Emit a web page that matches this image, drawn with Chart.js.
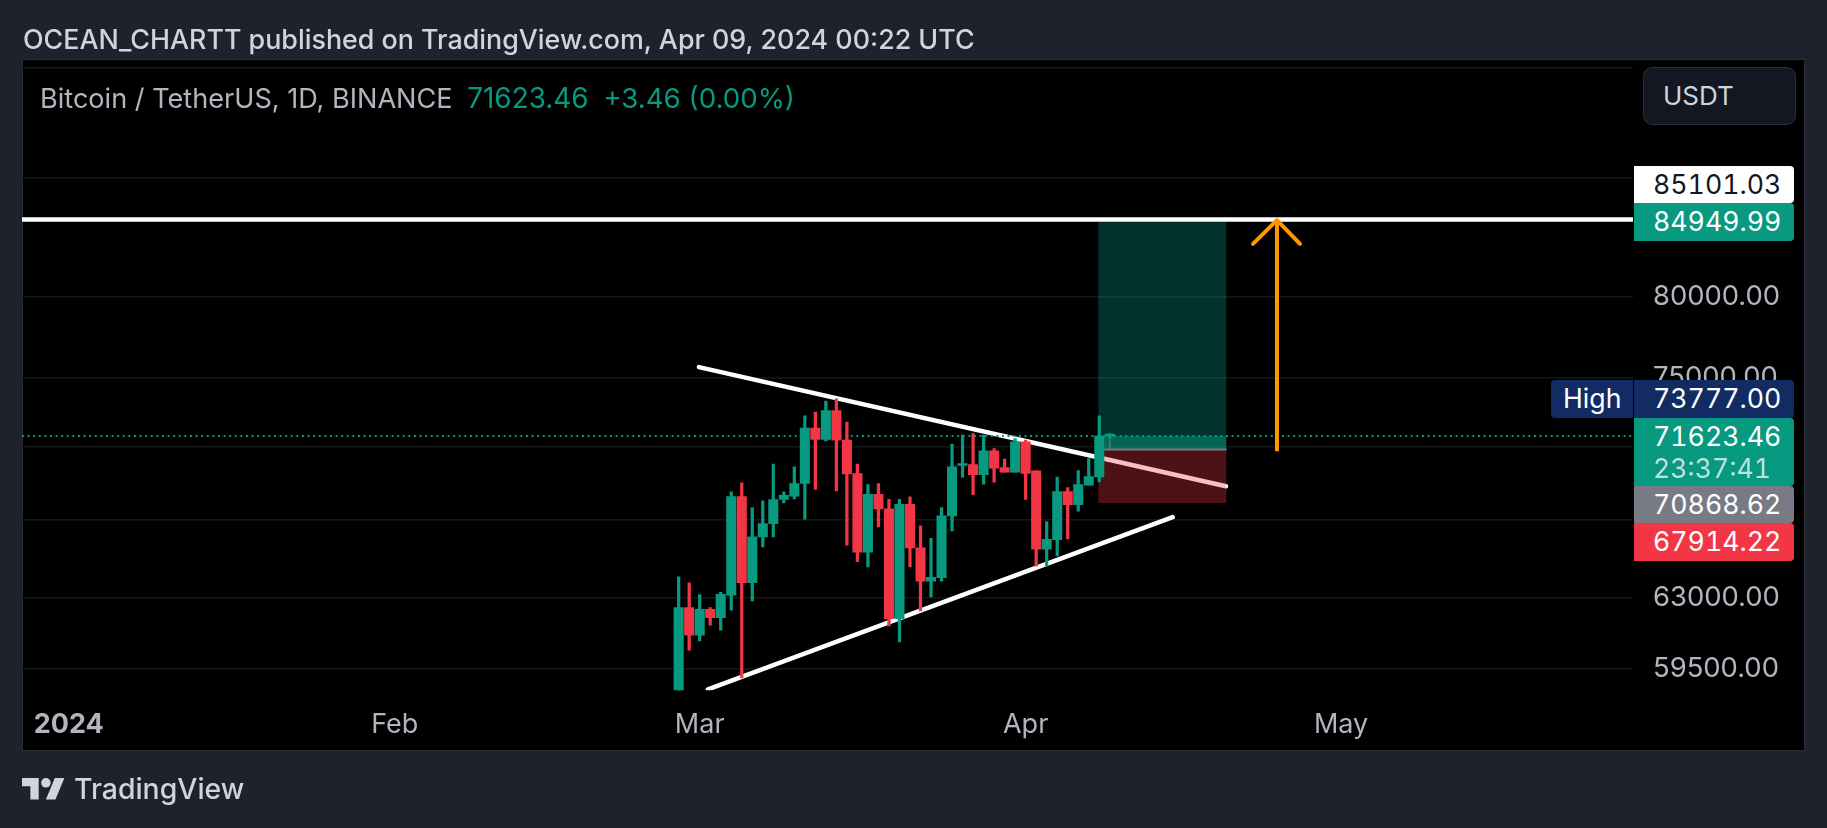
<!DOCTYPE html>
<html><head><meta charset="utf-8">
<script src="https://cdn.jsdelivr.net/npm/chart.js@4"></script>
<style>
html,body{margin:0;padding:0;width:1827px;height:828px;overflow:hidden;background:#1e222d;font-family:Inter,"Noto Sans",sans-serif}
#pane{position:absolute;left:22px;top:59px;width:1783px;height:692px;background:#000;border:1px solid #2a2e39;box-sizing:border-box}
#wrap{position:absolute;left:0;top:0;width:1827px;height:828px}
.t{position:absolute;white-space:nowrap;line-height:1}
#title{left:23px;top:26px;font-size:26.85px;font-weight:500;color:#d1d4dc}
#sub{left:40px;top:85px;font-size:27.1px;color:#b2b5be}
#sub b{font-weight:400;font-size:27.9px;color:#089981;margin-left:7px}
#sub i{font-style:normal;font-size:27.7px;color:#089981;margin-left:7px}
#unit{position:absolute;left:1643px;top:67px;width:153px;height:58px;box-sizing:border-box;background:#131722;border:1px solid #2a2e39;border-radius:9px;color:#d1d4dc;font-size:26px;line-height:56px;padding-left:19px}
#foot{left:74px;top:775px;font-size:28.4px;font-weight:500;color:#d1d4dc}
#logo{position:absolute;left:22px;top:778px}
.tag{position:absolute;box-sizing:border-box;font-size:26.7px;line-height:37.5px;font-variant-numeric:tabular-nums;font-feature-settings:"tnum";white-space:nowrap}
.tag span{display:block;height:32px;line-height:37.5px}
</style></head><body>
<div id="pane"></div>
<div id="wrap"><canvas id="c" width="1827" height="828"></canvas></div>
<div class="t" id="title">OCEAN_CHARTT published on TradingView.com, Apr 09, 2024 00:22 UTC</div>
<div class="t" id="sub">Bitcoin / TetherUS, 1D, BINANCE <b>71623.46</b> <i>+3.46 (0.00%)</i></div>
<div id="unit">USDT</div>
<svg id="logo" width="43" height="21.5" viewBox="0 4 36 18"><path fill="#d1d4dc" d="M14 22H7V11H0V4h14v18zM28 22h-8l7.5-18h8L28 22z"/><circle fill="#d1d4dc" cx="20" cy="8" r="4"/></svg>
<div class="t" id="foot">TradingView</div>
<div id="tags"></div>
<script>
const dates=['2024-02-28','2024-02-29','2024-03-01','2024-03-02','2024-03-03','2024-03-04','2024-03-05','2024-03-06','2024-03-07','2024-03-08','2024-03-09','2024-03-10','2024-03-11','2024-03-12','2024-03-13','2024-03-14','2024-03-15','2024-03-16','2024-03-17','2024-03-18','2024-03-19','2024-03-20','2024-03-21','2024-03-22','2024-03-23','2024-03-24','2024-03-25','2024-03-26','2024-03-27','2024-03-28','2024-03-29','2024-03-30','2024-03-31','2024-04-01','2024-04-02','2024-04-03','2024-04-04','2024-04-05','2024-04-06','2024-04-07','2024-04-08','2024-04-09'];
const opens =[57040,62486,61125,62403,61990,63102,68258,63742,66101,66807,68096,68276,68969,72075,71428,73097,71390,69521,65300,68385,67592,61941,67842,65526,63809,63996,67216,69965,70020,69464,70786,69853,69594,71295,69668,65456,65961,68531,67825,68877,69336,71620];
const highs =[64029,63725,63135,62486,63252,68513,69004,67664,68024,70039,68513,69891,72786,72999,73641,73777,72420,70039,68914,68969,68113,68113,68240,66683,66031,67664,71163,71675,71770,71675,70918,70318,71485,71390,69668,66913,69318,68749,69687,70356,72786,71770];
const lows  =[56000,60399,60849,61613,61368,62353,59082,62819,65577,66101,67916,68132,67038,68641,71352,68568,65664,64816,64541,66630,61581,60800,64541,62319,63018,63809,66418,69299,68367,68933,69042,69594,69594,68096,64575,64575,65109,65996,67467,68877,69061,71500];
const closes=[62486,61125,62403,61990,63153,68258,63742,66101,66807,68096,68331,68969,72075,71428,73097,71390,69502,65300,68385,67592,61941,67842,65526,63809,64012,67216,69891,70039,69464,70786,69816,69594,71295,69521,65456,65979,68531,67825,68914,69354,71618,71623.46];
const yTicks=[96000,88000,80000,75000,71000,67000,63000,59500];
const yTickLabels=['','','80000.00','75000.00','','','63000.00','59500.00'];
const monthDays=['2024-01-01','2024-02-01','2024-03-01','2024-04-01','2024-05-01'];
const monthLabels=['2024','Feb','Mar','Apr','May'];
const upperTrendDays=[59.93,110.05], upperTrendPrices=[75664,68825];
const lowerTrendDays=[60.79,104.98], lowerTrendPrices=[58550,67146];
const targetLinePrice=85101.03, takeProfit=84949.99, entry=70868.62, stopLoss=67914.22, lastPrice=71623.46, periodHigh=73777;
const positionDays=[97.9,110.1];
const arrowShaftDays=[114.9,114.9], arrowShaftPrices=[85101,70770];
const arrowHeadDays=[112.62,114.9,117.09], arrowHeadPrices=[83460,85060,83460];
const connectorDays=[99,99], connectorPrices=[71500,70868.62];
const xRange=[-4.45,148.76], yRange=[58504,96616];

const dayOf=s=>{const [y,m,d]=s.split('-').map(Number);return (Date.UTC(y,m-1,d)-Date.UTC(2024,0,1))/864e5;};
const days=dates.map(dayOf), tickDays=monthDays.map(dayOf);
const UP='#089981', DOWN='#f23645';
const colors=opens.map((o,i)=>closes[i]>=o?UP:DOWN);
const pts=(xs,ys)=>xs.map((x,i)=>({x,y:ys[i]}));
const line=(data,color,width,order,extra={})=>Object.assign({type:'line',data,borderColor:color,borderWidth:width,pointRadius:0,order,fill:false,tension:0,borderCapStyle:'round'},extra);
const band=(top,bottom,color,order)=>({type:'line',data:pts(positionDays,[top,top]),borderWidth:0,borderColor:'transparent',backgroundColor:color,pointRadius:0,order,fill:{value:bottom}});

const tags=[
 {v:targetLinePrice,bg:'#ffffff',fg:'#131722'},
 {v:takeProfit,bg:UP,fg:'#ffffff'},
 {v:periodHigh,bg:'#132b63',fg:'#ffffff',side:'High'},
 {v:lastPrice,bg:UP,fg:'#ffffff',sub:'23:37:41',h:68},
 {v:entry,bg:'#787b86',fg:'#ffffff'},
 {v:stopLoss,bg:DOWN,fg:'#ffffff'}
];
const tagPlugin={id:'tags',afterDraw(chart){
  const ys=chart.scales.y,a=chart.chartArea,H=37.5,L=a.right+1,W=160,host=document.getElementById('tags');
  const place=tags.map(t=>({...t,top:ys.getPixelForValue(t.v)-H/2,h:t.h||H}));
  place[1].top=Math.round(place[1].top);
  place[0].top=place[1].top-H;
  for(let i=3;i<place.length;i++){place[i].top=Math.max(place[i].top,place[i-1].top+place[i-1].h);}
  host.innerHTML='';
  const box=(left,top,w,h,bg,fg,pad,rad,html)=>{const d=document.createElement('div');d.className='tag';
    d.style.cssText=`left:${left}px;top:${top}px;width:${w}px;height:${h}px;background:${bg};color:${fg};padding-left:${pad}px;border-radius:${rad}`;
    d.innerHTML=html;host.appendChild(d);};
  place.forEach(t=>{
    box(L,t.top,W,t.h,t.bg,t.fg,19,'0 4px 4px 0',`<span>${t.v.toFixed(2)}</span>`+(t.sub?`<span style="opacity:.72">${t.sub}</span>`:''));
    if(t.side) box(L-83,t.top,82,t.h,t.bg,t.fg,12,'4px 0 0 4px',t.side);
  });
}};

new Chart(document.getElementById('c'),{
 type:'bar',
 plugins:[tagPlugin],
 data:{datasets:[
  line(pts(upperTrendDays,upperTrendPrices),'#ffffff',4.6,9),
  line(pts(lowerTrendDays,lowerTrendPrices),'#ffffff',4.6,9),
  band(lastPrice,entry,'rgba(8,153,129,0.5)',8),
  band(takeProfit,entry,'rgba(8,153,129,0.33)',7),
  band(entry,stopLoss,'rgba(242,54,69,0.32)',7),
  line(pts(positionDays,[entry,entry]),'#787b86',2,6,{borderCapStyle:'butt'}),
  line(pts(connectorDays,connectorPrices),'rgba(120,123,134,.7)',1.5,6,{borderCapStyle:'butt'}),
  line(pts(xRange,[lastPrice,lastPrice]),UP,2,5,{borderDash:[2,3.6],borderCapStyle:'butt'}),
  {type:'bar',data:pts(days,days.map((d,i)=>[lows[i],highs[i]])),backgroundColor:colors,barThickness:2.6,grouped:false,order:3},
  {type:'bar',data:pts(days,days.map((d,i)=>[opens[i],closes[i]])),backgroundColor:colors,barThickness:9.4,grouped:false,order:2,minBarLength:2},
  line(pts(xRange,[targetLinePrice,targetLinePrice]),'#ffffff',4.6,1,{borderCapStyle:'butt'}),
  line(pts(arrowShaftDays,arrowShaftPrices),'#ff9800',4,0,{borderCapStyle:'butt'}),
  line(pts(arrowHeadDays,arrowHeadPrices),'#ff9800',4,0,{borderCapStyle:'round',borderJoinStyle:'round'})
 ]},
 options:{
  responsive:false,animation:false,events:[],
  layout:{padding:{left:22,top:60,right:22,bottom:77}},
  plugins:{legend:{display:false},tooltip:{enabled:false}},
  scales:{
   x:{type:'linear',min:xRange[0],max:xRange[1],offset:false,
      afterBuildTicks:s=>{s.ticks=tickDays.map(v=>({value:v}));},
      afterFit:s=>{s.height=60.7;},
      grid:{display:false},border:{display:false},
      ticks:{autoSkip:false,maxRotation:0,padding:10,color:'#b2b5be',
        font:c=>({family:'Inter',size:27,weight:c.index===0?'700':'400'}),
        callback:(v,i)=>monthLabels[i]}},
   y:{type:'logarithmic',position:'right',min:yRange[0],max:yRange[1],
      afterBuildTicks:s=>{s.ticks=yTicks.map(v=>({value:v}));},
      afterFit:s=>{s.width=172;},
      grid:{color:'#161616',lineWidth:1.5,drawTicks:false},border:{display:false},
      ticks:{autoSkip:false,padding:20,color:'#b2b5be',font:{family:'Inter',size:27.4},
        callback:(v,i)=>yTickLabels[i]}}
  }
 }
});
</script></body></html>
